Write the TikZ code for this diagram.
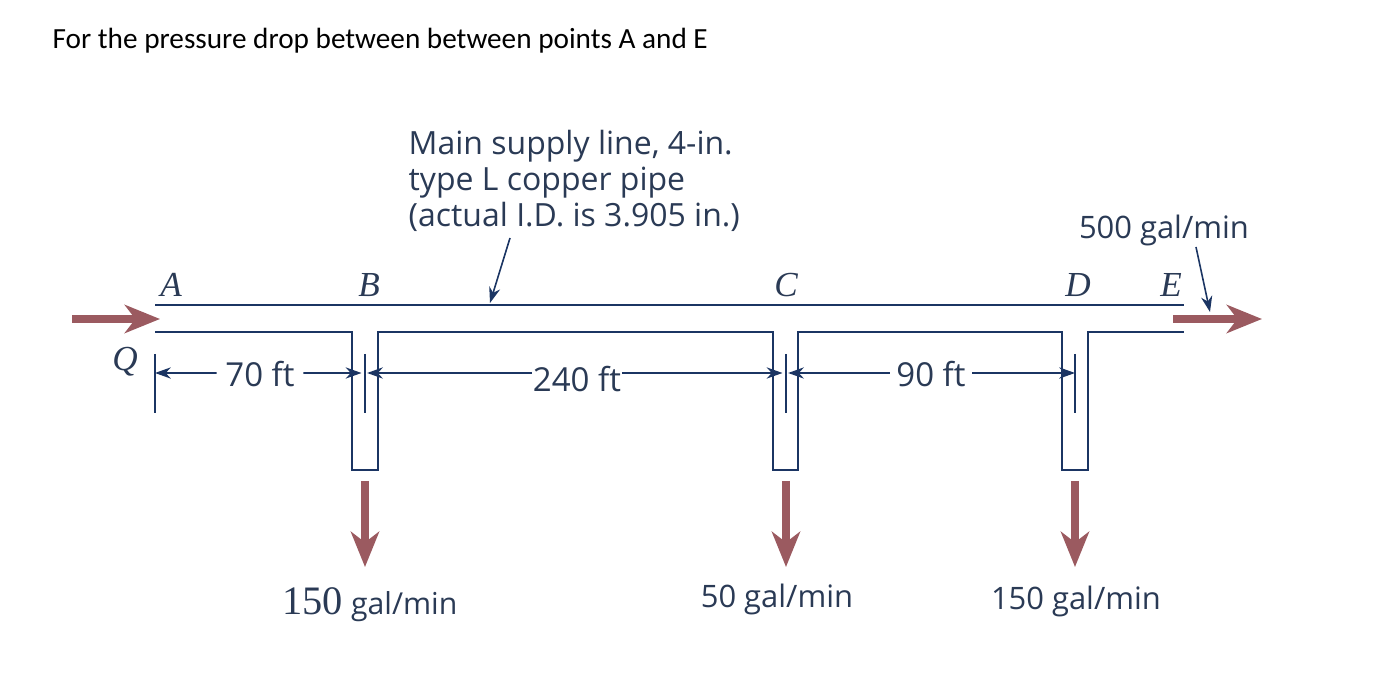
\documentclass[tikz,border=0pt]{standalone}
\usepackage{fontspec}
\setmainfont{Open Sans}
\newfontfamily\titlefont{Carlito}
\newfontfamily\ptfont{Liberation Serif}
\usetikzlibrary{arrows.meta}
\definecolor{pipeblue}{HTML}{1B3563}
\definecolor{flowred}{HTML}{9B5A60}
\definecolor{textblue}{HTML}{2A3A55}
\tikzset{
  pipeline/.style={pipeblue, line width=0.5pt},
  dimline/.style={pipeblue, line width=0.45pt, -{Stealth[length=4.5pt,width=3.2pt]}},
  flowarrow/.style={flowred, line width=2pt, -{Stealth[length=10pt,width=8pt,inset=3pt]}},
  lbl/.style={textblue, inner sep=0pt, font=\fontsize{8.8}{10.2}\selectfont},
  dimlbl/.style={textblue, inner sep=0pt, font=\fontsize{9.4}{10.2}\selectfont},
  ptlbl/.style={textblue, inner sep=0pt, font=\fontsize{10}{10}\ptfont\itshape}
}
\begin{document}
\begin{tikzpicture}
\useasboundingbox (0,0) rectangle (13.9,6.78);
\node[anchor=west, inner sep=0pt, font=\fontsize{8.32}{10}\titlefont] (title) at (0.52,6.37) {For the pressure drop between between points A and E};
% pipe outline
\draw[pipeline] (1.55,3.73) -- (11.84,3.73);
\draw[pipeline] (1.55,3.46) -- (3.52,3.46) -- (3.52,2.08) -- (3.78,2.08) -- (3.78,3.46)
  -- (7.73,3.46) -- (7.73,2.08) -- (7.98,2.08) -- (7.98,3.46)
  -- (10.62,3.46) -- (10.62,2.08) -- (10.88,2.08) -- (10.88,3.46) -- (11.84,3.46);
% point labels
\node[ptlbl] (ptA) at (1.71,3.93) {A};
\node[ptlbl] (ptB) at (3.69,3.93) {B};
\node[ptlbl] (ptC) at (7.86,3.93) {C};
\node[ptlbl] (ptD) at (10.78,3.93) {D};
\node[ptlbl] (ptE) at (11.71,3.93) {E};
\node[ptlbl] (ptQ) at (1.25,3.16) {Q};
% extension lines
\foreach \name/\x in {tickA/1.55,tickB/3.65,tickC/7.86,tickD/10.75} {
  \coordinate (\name) at (\x,3.05);
  \draw[pipeline] (\x,3.24) -- (\x,2.65);
}
% dimensions
\node[dimlbl] (dimAB) at (2.60,3.04) {70 ft};
\node[dimlbl] (dimBC) at (5.77,2.99) {240 ft};
\node[dimlbl] (dimCD) at (9.31,3.04) {90 ft};
\draw[dimline] (dimAB.west) ++(-0.08,0.01) -- (tickA);
\draw[dimline, shorten >=1pt] (dimAB.east) ++(0.08,0.01) -- (tickB);
\draw[dimline, shorten >=0.6pt] (dimBC.west |- tickB) -- (tickB);
\draw[dimline, shorten >=1pt] (dimBC.east |- tickC) -- (tickC);
\draw[dimline, shorten >=0.6pt] (dimCD.west |- tickC) ++(-0.06,0) -- (tickC);
\draw[dimline] (dimCD.east |- tickD) ++(0.06,0) -- (tickD);
% flows
\coordinate (inL) at (0.72,3.59);
\coordinate (inR) at (1.60,3.59);
\coordinate (outL) at (11.73,3.59);
\coordinate (outR) at (12.62,3.59);
\draw[flowarrow] (inL) -- (inR);
\draw[flowarrow] (outL) -- (outR);
\node[lbl, anchor=center, font=\fontsize{8.6}{10.2}\selectfont] (flowB) at (3.70,0.73) {{\fontsize{11.5}{12}\ptfont 150} gal/min};
\node[lbl] (flowC) at (7.77,0.79) {50 gal/min};
\node[lbl] (flowD) at (10.76,0.77) {150 gal/min};
\coordinate (teeB) at (3.65,1.97);
\coordinate (teeC) at (7.86,1.97);
\coordinate (teeD) at (10.75,1.97);
\draw[flowarrow] (teeB) -- (3.65,1.11);
\draw[flowarrow] (teeC) -- (7.86,1.11);
\draw[flowarrow] (teeD) -- (10.75,1.11);
% leaders
\node[lbl, anchor=west, align=left, font=\fontsize{9.1}{10.2}\selectfont] (supply) at (4.08,4.97) {Main supply line, 4-in.\\type L copper pipe\\(actual I.D. is 3.905 in.)};
\node[lbl] (total) at (11.64,4.48) {500 gal/min};
\coordinate (supplyEnd) at (5.10,4.40);
\coordinate (pipeTop) at (4.90,3.75);
\coordinate (totalEnd) at (11.96,4.31);
\coordinate (outTop) at (12.10,3.66);
\draw[dimline] (supplyEnd) -- (pipeTop);
\draw[dimline] (totalEnd) -- (outTop);
\end{tikzpicture}
\end{document}
